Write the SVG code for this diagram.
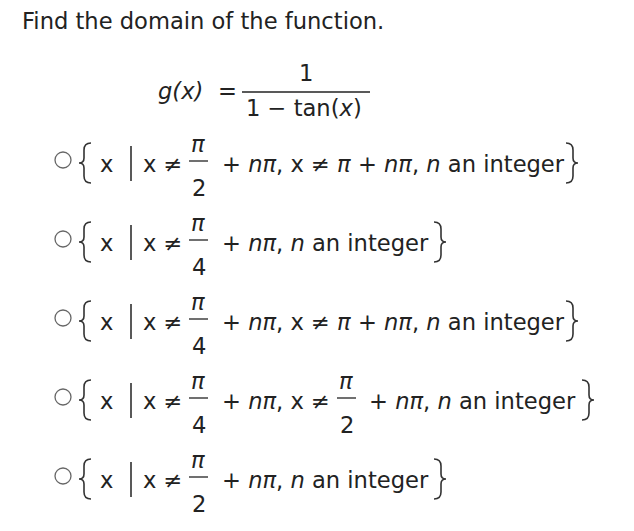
<svg xmlns="http://www.w3.org/2000/svg" width="634" height="531" viewBox="0 0 634 531">
<style>
text{font-family:"DejaVu Sans",Verdana,sans-serif;font-size:22.6px;fill:#222}
.i{font-style:italic}
.rad{fill:none;stroke:#666;stroke-width:1.3}
.ln{stroke:#222;stroke-width:1.3}
.bar{stroke:#222;stroke-width:1.5}
.brc{fill:none;stroke:#333;stroke-width:1.6}
</style>
<defs>
<path id="lb" class="brc" d="M12,0 Q5,0 5,7 L5,15 Q5,20 0,20 Q5,20 5,25 L5,33 Q5,40 12,40"/>
<path id="rb" class="brc" d="M0,0 Q7,0 7,7 L7,15 Q7,20 12,20 Q7,20 7,25 L7,33 Q7,40 0,40"/>
</defs>
<rect width="634" height="531" fill="#fff"/>
<text x="22" y="29">Find the domain of the function.</text>
<g id="func">
<text x="158" y="99" class="i">g(x)</text>
<text x="218" y="99">=</text>
<text x="299" y="81">1</text>
<line class="ln" x1="242" y1="92" x2="370" y2="92"/>
<text x="246" y="116">1 − tan(<tspan class="i">x</tspan>)</text>
</g>
<g id="opt1">
<circle class="rad" cx="63" cy="160" r="8"/>
<use href="#lb" x="79" y="143"/><text x="100" y="172">x</text>
<line class="bar" x1="131" y1="146" x2="131" y2="181"/>
<text x="143" y="172">x ≠</text>
<text class="i" x="191" y="152">π</text><line class="ln" x1="189" y1="161" x2="208" y2="161"/><text x="192" y="196">2</text>
<text x="222" y="172">+ <tspan class="i">nπ</tspan>, x ≠ <tspan class="i">π</tspan> + <tspan class="i">nπ</tspan>, <tspan class="i">n</tspan> an integer</text>
<use href="#rb" x="566" y="143"/>
</g>
<g id="opt2">
<circle class="rad" cx="63" cy="239" r="8"/>
<use href="#lb" x="79" y="222"/><text x="100" y="251">x</text>
<line class="bar" x1="131" y1="225" x2="131" y2="260"/>
<text x="143" y="251">x ≠</text>
<text class="i" x="191" y="231">π</text><line class="ln" x1="189" y1="240" x2="208" y2="240"/><text x="192" y="275">4</text>
<text x="222" y="251">+ <tspan class="i">nπ</tspan>, <tspan class="i">n</tspan> an integer</text>
<use href="#rb" x="434" y="222"/>
</g>
<g id="opt3">
<circle class="rad" cx="63" cy="318" r="8"/>
<use href="#lb" x="79" y="301"/><text x="100" y="330">x</text>
<line class="bar" x1="131" y1="304" x2="131" y2="339"/>
<text x="143" y="330">x ≠</text>
<text class="i" x="191" y="310">π</text><line class="ln" x1="189" y1="319" x2="208" y2="319"/><text x="192" y="354">4</text>
<text x="222" y="330">+ <tspan class="i">nπ</tspan>, x ≠ <tspan class="i">π</tspan> + <tspan class="i">nπ</tspan>, <tspan class="i">n</tspan> an integer</text>
<use href="#rb" x="566" y="301"/>
</g>
<g id="opt4">
<circle class="rad" cx="63" cy="397" r="8"/>
<use href="#lb" x="79" y="380"/><text x="100" y="409">x</text>
<line class="bar" x1="131" y1="383" x2="131" y2="418"/>
<text x="143" y="409">x ≠</text>
<text class="i" x="191" y="389">π</text><line class="ln" x1="189" y1="398" x2="208" y2="398"/><text x="192" y="433">4</text>
<text x="222" y="409">+ <tspan class="i">nπ</tspan>, x ≠</text>
<text class="i" x="339" y="389">π</text><line class="ln" x1="337" y1="398" x2="356" y2="398"/><text x="340" y="433">2</text>
<text x="369" y="409">+ <tspan class="i">nπ</tspan>, <tspan class="i">n</tspan> an integer</text>
<use href="#rb" x="582" y="380"/>
</g>
<g id="opt5">
<circle class="rad" cx="63" cy="476" r="8"/>
<use href="#lb" x="79" y="459"/><text x="100" y="488">x</text>
<line class="bar" x1="131" y1="462" x2="131" y2="497"/>
<text x="143" y="488">x ≠</text>
<text class="i" x="191" y="468">π</text><line class="ln" x1="189" y1="477" x2="208" y2="477"/><text x="192" y="512">2</text>
<text x="222" y="488">+ <tspan class="i">nπ</tspan>, <tspan class="i">n</tspan> an integer</text>
<use href="#rb" x="434" y="459"/>
</g>
</svg>
